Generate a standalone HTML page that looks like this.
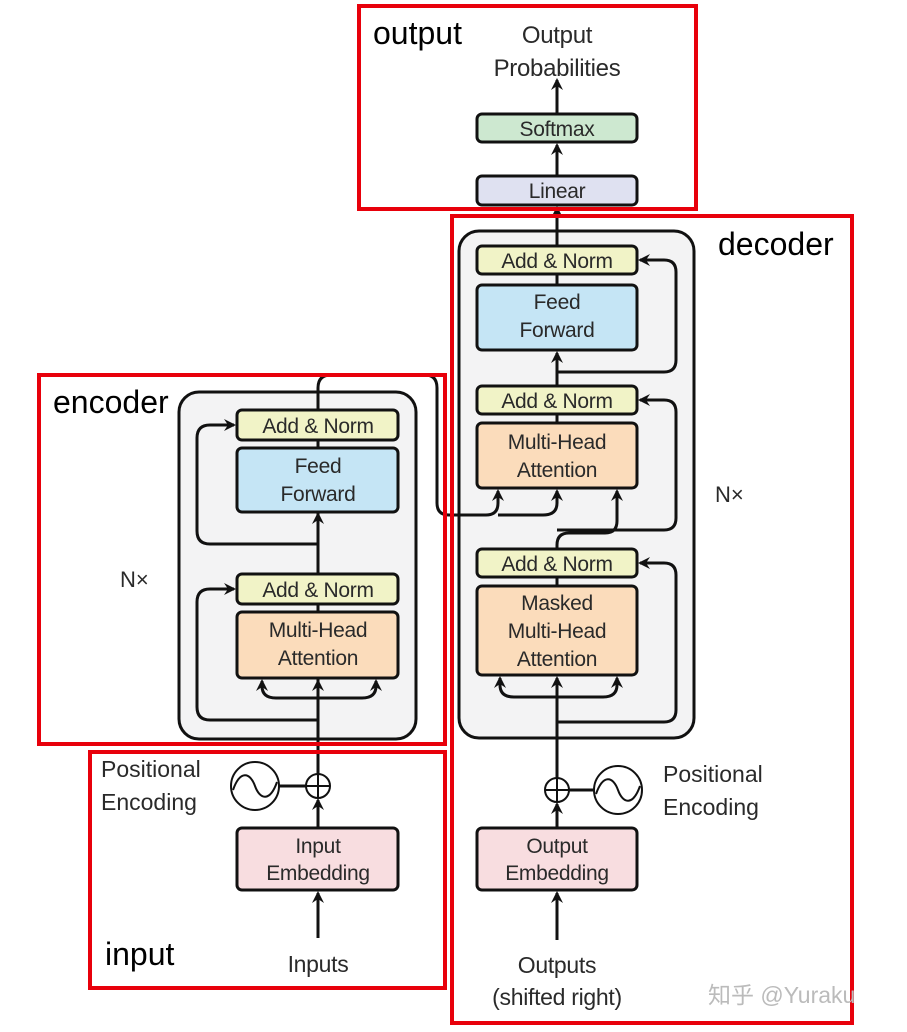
<!DOCTYPE html>
<html><head><meta charset="utf-8"><style>
html,body{margin:0;padding:0;background:#fff;}
svg{display:block;}
text{font-family:"Liberation Sans","Noto Sans CJK SC",sans-serif;fill:#2a2a2a;}
</style></head><body>
<svg width="907" height="1032" viewBox="0 0 907 1032" xmlns="http://www.w3.org/2000/svg">
<defs>
<marker id="a" markerWidth="14" markerHeight="14" refX="10" refY="7" orient="auto" markerUnits="userSpaceOnUse">
<path d="M0,1 L12,7 L0,13 L4,7 z" fill="#111"/>
</marker>
</defs>
<rect x="179" y="392" width="237" height="347" rx="20" fill="#f3f3f4" stroke="#111" stroke-width="3"/>
<rect x="459" y="231" width="235" height="507" rx="20" fill="#f3f3f4" stroke="#111" stroke-width="3"/>

<g fill="none" stroke="#111" stroke-width="3">
<path d="M318 938 V893" marker-end="url(#a)"/>
<path d="M318 828 V800" marker-end="url(#a)"/>
<path d="M318 774 V448"/>
<path d="M318 512 V410"/>
<path d="M318 580 V514" marker-end="url(#a)"/>
<path d="M318 544 H210 Q197 544 197 531 V438 Q197 425 210 425 H234" marker-end="url(#a)"/>
<path d="M318 720 H210 Q197 720 197 707 V602 Q197 589 210 589 H234" marker-end="url(#a)"/>
<path d="M318 698 H276 Q262 698 262 686 V681" marker-end="url(#a)"/>
<path d="M318 698 H362 Q376 698 376 686 V681" marker-end="url(#a)"/>
<path d="M318 700 V681" marker-end="url(#a)"/>
<path d="M318 410 V388 Q318 375 331 375 H425 Q437 375 437 388 V503 Q437 515 449 515 H486 Q498 515 498 503 V491" marker-end="url(#a)"/>
<path d="M498 515 H543 Q557 515 557 503 V491" marker-end="url(#a)"/>
<path d="M557 549 V545 Q557 533 569 533 H605 Q617 533 617 521 V491" marker-end="url(#a)"/>

<path d="M557 940 V893" marker-end="url(#a)"/>
<path d="M557 828 V804" marker-end="url(#a)"/>
<path d="M557 778 V678" marker-end="url(#a)"/>
<path d="M557 577 V586"/>
<path d="M557 414 V423"/>
<path d="M557 386 V353" marker-end="url(#a)"/>
<path d="M557 274 V285"/>
<path d="M557 246 V208" marker-end="url(#a)"/>
<path d="M557 176 V145" marker-end="url(#a)"/>
<path d="M557 114 V80" marker-end="url(#a)"/>
<path d="M557 697 H514 Q500 697 500 685 V678" marker-end="url(#a)"/>
<path d="M557 697 H603 Q617 697 617 685 V678" marker-end="url(#a)"/>
<path d="M557 722 H664 Q676 722 676 710 V575 Q676 563 664 563 H640" marker-end="url(#a)"/>
<path d="M557 530 H664 Q676 530 676 518 V412 Q676 400 664 400 H640" marker-end="url(#a)"/>
<path d="M557 372 H664 Q676 372 676 360 V272 Q676 260 664 260 H640" marker-end="url(#a)"/>
<path d="M279 786 H306"/>
<path d="M569 790 H594"/>
</g>

<g stroke="#111" stroke-width="3">
<rect x="237" y="410" width="161" height="30" rx="5" fill="#f1f3c7"/>
<rect x="237" y="448" width="161" height="64" rx="5" fill="#c5e5f5"/>
<rect x="237" y="574" width="161" height="30" rx="5" fill="#f1f3c7"/>
<rect x="237" y="612" width="161" height="66" rx="5" fill="#fbdcbb"/>
<rect x="237" y="828" width="161" height="62" rx="5" fill="#f8dde0"/>
<rect x="477" y="246" width="160" height="28" rx="5" fill="#f1f3c7"/>
<rect x="477" y="285" width="160" height="65" rx="5" fill="#c5e5f5"/>
<rect x="477" y="386" width="160" height="28" rx="5" fill="#f1f3c7"/>
<rect x="477" y="423" width="160" height="65" rx="5" fill="#fbdcbb"/>
<rect x="477" y="549" width="160" height="28" rx="5" fill="#f1f3c7"/>
<rect x="477" y="586" width="160" height="89" rx="5" fill="#fbdcbb"/>
<rect x="477" y="828" width="160" height="62" rx="5" fill="#f8dde0"/>
<rect x="477" y="176" width="160" height="29" rx="5" fill="#dfe1f1"/>
<rect x="477" y="114" width="160" height="28" rx="5" fill="#cde8d0"/>
</g>
<g fill="#fff" stroke="#111" stroke-width="2">
<circle cx="318" cy="786" r="12"/>
<circle cx="255" cy="786" r="24"/>
<circle cx="557" cy="790" r="12"/>
<circle cx="618" cy="790" r="24"/>
</g>
<g fill="none" stroke="#111" stroke-width="2">
<path d="M318 774 V798 M306 786 H330"/>
<path d="M557 778 V802 M545 790 H569"/>
<path d="M233 790 C240 770 250 772 255 786 C260 800 270 802 277 782"/>
<path d="M596 794 C603 774 613 776 618 790 C623 804 633 806 640 786"/>
</g>

<g font-size="21" text-anchor="middle" letter-spacing="-0.3">
<text x="318" y="433">Add &amp; Norm</text>
<text x="318" y="473">Feed</text>
<text x="318" y="501">Forward</text>
<text x="318" y="597">Add &amp; Norm</text>
<text x="318" y="637">Multi-Head</text>
<text x="318" y="665">Attention</text>
<text x="318" y="853">Input</text>
<text x="318" y="880">Embedding</text>
<text x="318" y="972" font-size="23">Inputs</text>
<text x="557" y="268">Add &amp; Norm</text>
<text x="557" y="309">Feed</text>
<text x="557" y="337">Forward</text>
<text x="557" y="408">Add &amp; Norm</text>
<text x="557" y="449">Multi-Head</text>
<text x="557" y="477">Attention</text>
<text x="557" y="571">Add &amp; Norm</text>
<text x="557" y="610">Masked</text>
<text x="557" y="638">Multi-Head</text>
<text x="557" y="666">Attention</text>
<text x="557" y="853">Output</text>
<text x="557" y="880">Embedding</text>
<text x="557" y="198">Linear</text>
<text x="557" y="136">Softmax</text>
<text x="557" y="43" font-size="24">Output</text>
<text x="557" y="76" font-size="24">Probabilities</text>
<text x="557" y="973" font-size="23">Outputs</text>
<text x="557" y="1005" font-size="23">(shifted right)</text>
</g>
<g font-size="23">
<text x="101" y="777">Positional</text>
<text x="101" y="810">Encoding</text>
<text x="663" y="782">Positional</text>
<text x="663" y="815">Encoding</text>
<text x="120" y="587" font-size="22">N×</text>
<text x="715" y="502" font-size="22">N×</text>
</g>

<g fill="none" stroke="#e8000b" stroke-width="4">
<rect x="359" y="6" width="337" height="203"/>
<rect x="452" y="216" width="400" height="807"/>
<rect x="39" y="375" width="406" height="369"/>
<rect x="90" y="752" width="355" height="236"/>
</g>
<text x="708" y="1003" font-size="23" style="fill:#bbb">知乎 @Yuraku</text>
<g font-size="32">
<text x="373" y="44" style="fill:#000">output</text>
<text x="718" y="255" style="fill:#000">decoder</text>
<text x="53" y="413" style="fill:#000">encoder</text>
<text x="105" y="965" style="fill:#000">input</text>
</g>
</svg>
</body></html>
